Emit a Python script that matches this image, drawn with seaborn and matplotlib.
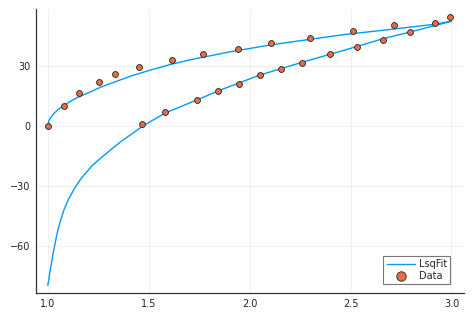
import matplotlib
matplotlib.use("Agg")
import matplotlib.pyplot as plt
import seaborn as sns

# Fitted curve (lower branch left->right, then upper branch right->left)
fit_x = [1.0, 1.005, 1.01, 1.015, 1.022, 1.03, 1.046, 1.06, 1.079, 1.1, 1.136,
         1.17, 1.219, 1.26, 1.317, 1.36, 1.416, 1.468, 1.53,
         1.588, 1.744, 1.851, 2.048, 2.27, 2.467, 2.664, 2.795, 3.0,
         2.918, 2.664, 2.467, 2.27, 2.097, 1.9, 1.703, 1.604, 1.506, 1.424,
         1.309, 1.26, 1.21, 1.18, 1.145, 1.11, 1.079, 1.055, 1.03, 1.01,
         1.005, 1.0]
fit_y = [-80.0, -77.0, -73.5, -70.5, -66.5, -62.0, -54.0, -48.5, -42.4, -37.3, -30.6,
         -25.7, -20.0, -16.3, -11.5, -8.0, -4.0, -0.2, 3.5,
         6.8, 13.3, 17.9, 25.5, 32.3, 38.0, 43.9, 47.2, 52.6,
         51.1, 48.1, 45.9, 43.1, 40.6, 37.2, 33.2, 30.8, 28.0, 25.5,
         21.3, 19.4, 17.1, 15.8, 14.2, 12.3, 10.2, 8.6, 6.3, 3.6,
         2.5, 0.0]

# Observed data
data_x = [1.0, 1.079, 1.156, 1.255, 1.335, 1.450, 1.616, 1.770, 1.941, 2.108,
          2.299, 2.511, 2.713, 2.918,
          1.468, 1.583, 1.741, 1.844, 1.949, 2.053, 2.153, 2.257, 2.398, 2.532,
          2.659, 2.797, 2.992]
data_y = [0.0, 10.1, 16.8, 22.3, 26.0, 29.8, 33.0, 36.2, 38.9, 41.6,
          44.2, 47.6, 50.6, 51.6,
          0.85, 7.0, 13.3, 17.8, 21.3, 25.6, 28.8, 31.8, 36.0, 39.7,
          43.4, 47.2, 54.5]

x_ticks = [1.0, 1.5, 2.0, 2.5, 3.0]
y_ticks = [-60, -30, 0, 30]

sns.set_style("white")
plt.rcParams['font.family'] = ['DejaVu Sans']

fig = plt.figure(figsize=(4.74, 3.16), dpi=100)
ax = fig.add_axes([0.0753, 0.0718, 0.9027, 0.8988])

sns.lineplot(x=fit_x, y=fit_y, sort=False, estimator=None, ax=ax,
             color="#009AFA", linewidth=1.0, label="LsqFit")
sns.scatterplot(x=data_x, y=data_y, ax=ax, color="#E26F46", s=18,
                edgecolor="#222222", linewidth=0.6, label="Data", zorder=3)

ax.set_xlim(0.94, 3.06)
ax.set_ylim(-84.0, 58.6)
ax.set_xticks(x_ticks)
ax.set_xticklabels(["1.0", "1.5", "2.0", "2.5", "3.0"])
ax.set_yticks(y_ticks)

ax.grid(True, color="black", alpha=0.08, linewidth=0.5)
for side in ["top", "right"]:
    ax.spines[side].set_visible(False)
for side in ["left", "bottom"]:
    ax.spines[side].set_color("#333333")
    ax.spines[side].set_linewidth(0.9)

ax.tick_params(axis="both", direction="in", length=2.5, width=0.8,
               color="#333333", labelsize=7, labelcolor="#222222", pad=4)

leg = ax.legend(loc="lower right", bbox_to_anchor=(0.969, 0.033),
                borderaxespad=0, fontsize=7, frameon=True, fancybox=False,
                handlelength=2.9, handletextpad=0.4, borderpad=0.35,
                labelspacing=0.15, markerscale=1.6)
leg.get_frame().set_edgecolor("#555555")
leg.get_frame().set_linewidth(0.8)

fig.savefig("out.png", dpi=100)
